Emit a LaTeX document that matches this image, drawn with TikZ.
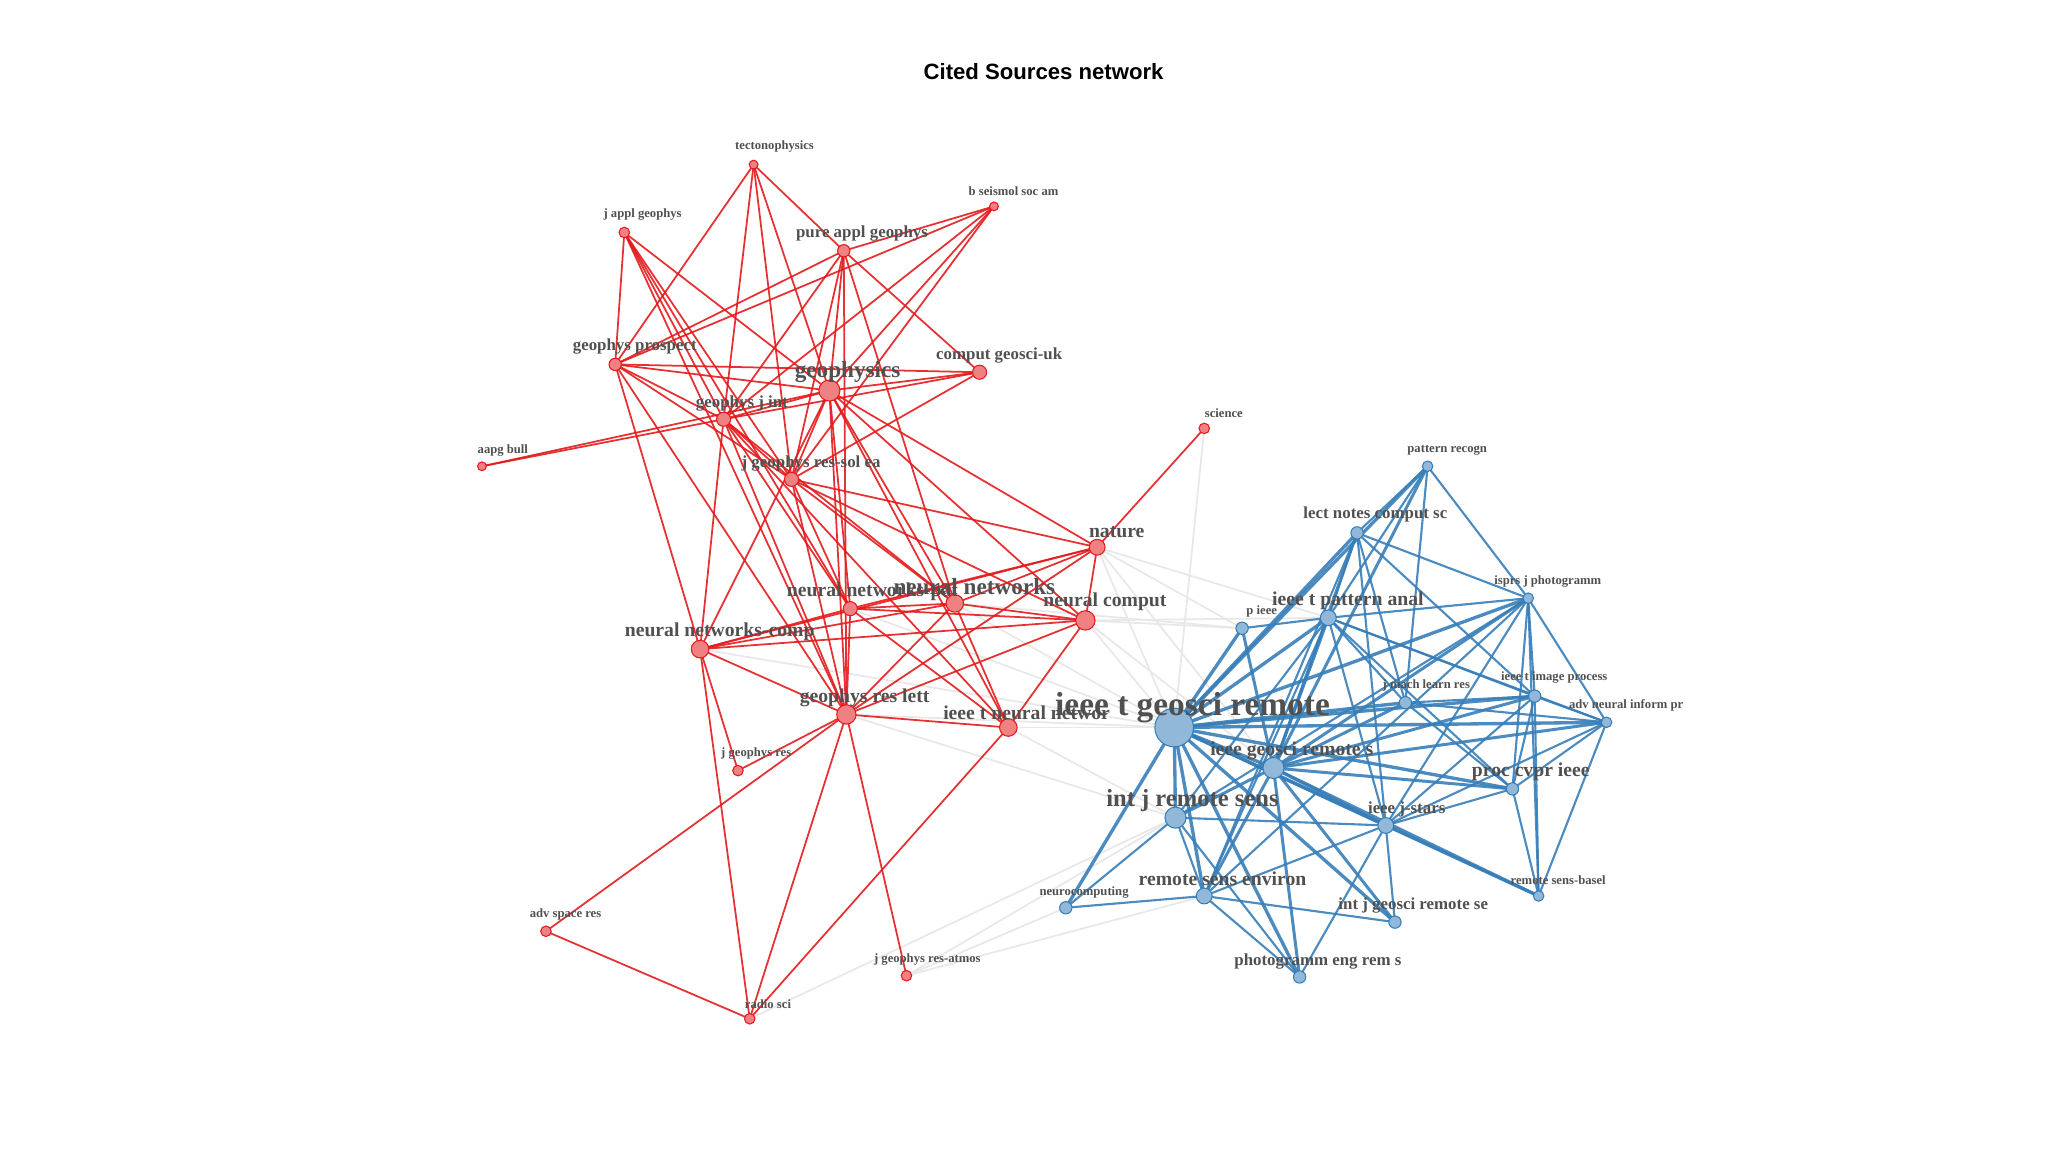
\documentclass[tikz,border=0pt]{standalone}
\usepackage{fontspec}
\setmainfont{Liberation Serif}
\newfontfamily\titlefont{Liberation Sans}
\definecolor{cred}{RGB}{228,26,28}
\definecolor{cblue}{RGB}{55,126,184}
\definecolor{lab}{RGB}{80,80,80}
\begin{document}
\begin{tikzpicture}[x=0.01306cm,y=-0.01306cm,
  rd/.style={circle,inner sep=0pt,minimum size=#1,fill=cred!55,draw=cred,line width=0.3pt},
  bd/.style={circle,inner sep=0pt,minimum size=#1,fill=cblue!55,draw=cblue,line width=0.3pt},
  re/.style={draw=cred,line width=0.5pt,opacity=0.9},
  be/.style={draw=cblue,line width=0.6pt,opacity=0.9},
  ge/.style={draw=gray!18,line width=0.5pt},
  ls/.style={font=\bfseries\fontsize{3.6}{4}\selectfont,text=lab,inner sep=0pt},
  lm/.style={font=\bfseries\fontsize{5.6}{6}\selectfont,text=lab,inner sep=0pt},
  ll/.style={font=\bfseries\fontsize{8.5}{9}\selectfont,text=lab,inner sep=0pt}]
\useasboundingbox (0,0) rectangle (1568,882);
\node[font=\titlefont\bfseries\fontsize{6.3}{7}\selectfont] (title) at (799,55) {Cited Sources network};
\foreach \n/\x/\y in {tect/577/126,japp/478/178,bssa/761/158,pure/646/192,gpro/471/279,gph/635/299,cgeo/750/285,gji/554/321,aapg/369/357,jgrs/606/367,nat/840/419,nnp/651/466,nn/731/462,ncomp/831/475,nnc/536/497,grl/648/547,tnn/772/557,jgr/565/590,adv/418/713,jgra/694/747,radio/574/780,sci/922/328,
 patt/1093/357,lect/1039/408,isprs/1170/458,pieee/951/481,tpami/1017/473,jmlr/1076/538,tip/1175/533,nips/1230/553,geo/899/557,grs/975/588,rsb/1178/686,cvpr/1158/604,ijrs/900/626,jst/1061/632,rse/922/686,neuro/816/695,ijgrs/1068/706,pers/995/748}
  \coordinate (\n) at (\x,\y);
\foreach \a/\b in {geo/nat,geo/nn,geo/ncomp,geo/tnn,geo/sci,geo/grl,geo/nnp,ijrs/tnn,ijrs/radio,ijrs/jgra,neuro/jgra,rse/jgra,pieee/nat,pieee/nn,grs/ncomp,grs/nat,tpami/ncomp,tpami/nat,ijrs/grl,geo/nnc,pieee/ncomp}
  \draw[ge] (\a) -- (\b);
\foreach \a/\b in {tect/gph,tect/pure,tect/gji,tect/jgrs,tect/gpro,japp/gph,japp/gpro,japp/gji,japp/jgrs,japp/grl,japp/nnp,bssa/gph,bssa/pure,bssa/gji,bssa/gpro,bssa/jgrs,pure/gph,pure/gji,pure/gpro,pure/jgrs,pure/nn,pure/cgeo,pure/grl,gpro/gph,gpro/gji,gpro/cgeo,gpro/jgrs,gpro/nnc,gpro/grl,gph/cgeo,gph/gji,gph/jgrs,gph/nat,gph/nn,gph/ncomp,gph/nnp,gph/grl,gph/nnc,gph/tnn,cgeo/gji,cgeo/jgrs,gji/aapg,gji/jgrs,gji/grl,gji/nn,gji/nnp,gji/nnc,gji/tnn,aapg/gph,jgrs/nat,jgrs/nn,jgrs/ncomp,jgrs/grl,jgrs/nnp,nat/nn,nat/nnp,nat/nnc,nat/grl,nat/sci,nat/ncomp,nn/nnp,nn/ncomp,nn/nnc,nn/grl,nn/tnn,ncomp/nnp,ncomp/nnc,ncomp/grl,ncomp/tnn,nnc/grl,nnc/nnp,nnc/jgr,nnc/radio,grl/tnn,grl/jgr,grl/adv,grl/radio,grl/jgra,grl/nnp,tnn/radio,tnn/nnp,adv/radio}
  \draw[re] (\a) -- (\b);
\foreach \b in {patt,lect,isprs,pieee,tpami,jmlr,tip,nips,grs,rsb,cvpr,ijrs,jst,rse,neuro,ijgrs,pers}
  \draw[be,line width=0.95pt] (geo) -- (\b);
\foreach \b in {patt,lect,isprs,pieee,tpami,jmlr,tip,nips,rsb,cvpr,ijrs,jst,rse,ijgrs,pers}
  \draw[be,line width=0.85pt] (grs) -- (\b);
\foreach \a/\b in {patt/lect,patt/tpami,patt/jmlr,lect/tpami,lect/isprs,lect/jst,lect/tip,lect/jmlr,isprs/tpami,isprs/jst,isprs/tip,isprs/nips,isprs/cvpr,isprs/rsb,isprs/rse,isprs/ijrs,tpami/tip,tpami/nips,tpami/cvpr,tpami/jmlr,tpami/jst,tpami/ijrs,tpami/rse,tpami/pieee,tip/nips,tip/cvpr,tip/jst,tip/rsb,nips/cvpr,nips/rsb,nips/jst,cvpr/jst,cvpr/rsb,jst/ijrs,jst/rse,jst/ijgrs,jst/pers,jst/rsb,ijrs/rse,ijrs/pers,ijrs/neuro,rse/pers,rse/ijgrs,rse/neuro,jmlr/nips,jmlr/cvpr,jmlr/tip,lect/rse,patt/isprs}
  \draw[be] (\a) -- (\b);
\foreach \n/\s in {tect/2.5,japp/3,bssa/2.5,pure/3.5,gpro/3.5,gph/6,cgeo/4,gji/4,aapg/2.5,jgrs/4,nat/4.5,nnp/4,nn/5,ncomp/5.5,nnc/5,grl/5.5,tnn/5,jgr/3,adv/3,jgra/3,radio/3,sci/3}
  \node[rd=\s] (d\n) at (\n) {};
\foreach \n/\s in {patt/3,lect/3.5,isprs/3,pieee/3.5,tpami/4.5,jmlr/3.5,tip/3.5,nips/3,geo/11,grs/6,rsb/3,cvpr/3.5,ijrs/6,jst/4.5,rse/4.5,neuro/3.5,ijgrs/3.5,pers/3.5}
  \node[bd=\s] (d\n) at (\n) {};
\foreach \n/\x/\y/\t in {tect/593/112/tectonophysics,japp/492/164/j appl geophys,bssa/776/146/b seismol soc am,aapg/385/345/aapg bull,sci/937/316/science,jgr/579/577/j geophys res,adv/433/700/adv space res,jgra/710/735/j geophys res-atmos,radio/588/769/radio sci,patt/1108/345/pattern recogn,isprs/1185/445/isprs j photogramm,pieee/966/468/p ieee,jmlr/1092/525/j mach learn res,tip/1190/519/ieee t image process,nips/1245/540/adv neural inform pr,rsb/1193/674/remote sens-basel,neuro/830/683/neurocomputing}
  \node[ls] (l\n) at (\x,\y) {\t};
\foreach \n/\x/\y/\t in {pure/660/179/pure appl geophys,gpro/486/265/geophys prospect,cgeo/765/272/comput geosci-uk,gji/568/309/geophys j int,jgrs/621/355/j geophys res-sol ea,lect/1053/394/lect notes comput sc,jst/1077/620/ieee j-stars,ijgrs/1082/693/int j geosci remote se,pers/1009/736/photogramm eng rem s}
  \node[lm,font=\bfseries\fontsize{4.8}{5}\selectfont] (l\n) at (\x,\y) {\t};
\foreach \n/\x/\y/\t in {nat/855/407/nature,nnp/668/453/neural networks-pat,ncomp/846/461/neural comput,nnc/551/484/neural networks-comp,grl/662/534/geophys res lett,tnn/786/546/ieee t neural networ,tpami/1032/460/ieee t pattern anal,grs/989/575/ieee geosci remote s,cvpr/1172/591/proc cvpr ieee,rse/936/673/remote sens environ}
  \node[lm] (l\n) at (\x,\y) {\t};
\foreach \n/\x/\y/\t/\f in {gph/649/285/geophysics/6.6,nn/746/449/neural networks/6.6,ijrs/913/613/int j remote sens/7,geo/913/542/ieee t geosci remote/9.5}
  \node[ll,font=\bfseries\fontsize{\f}{\f}\selectfont] (l\n) at (\x,\y) {\t};
\end{tikzpicture}
\end{document}
